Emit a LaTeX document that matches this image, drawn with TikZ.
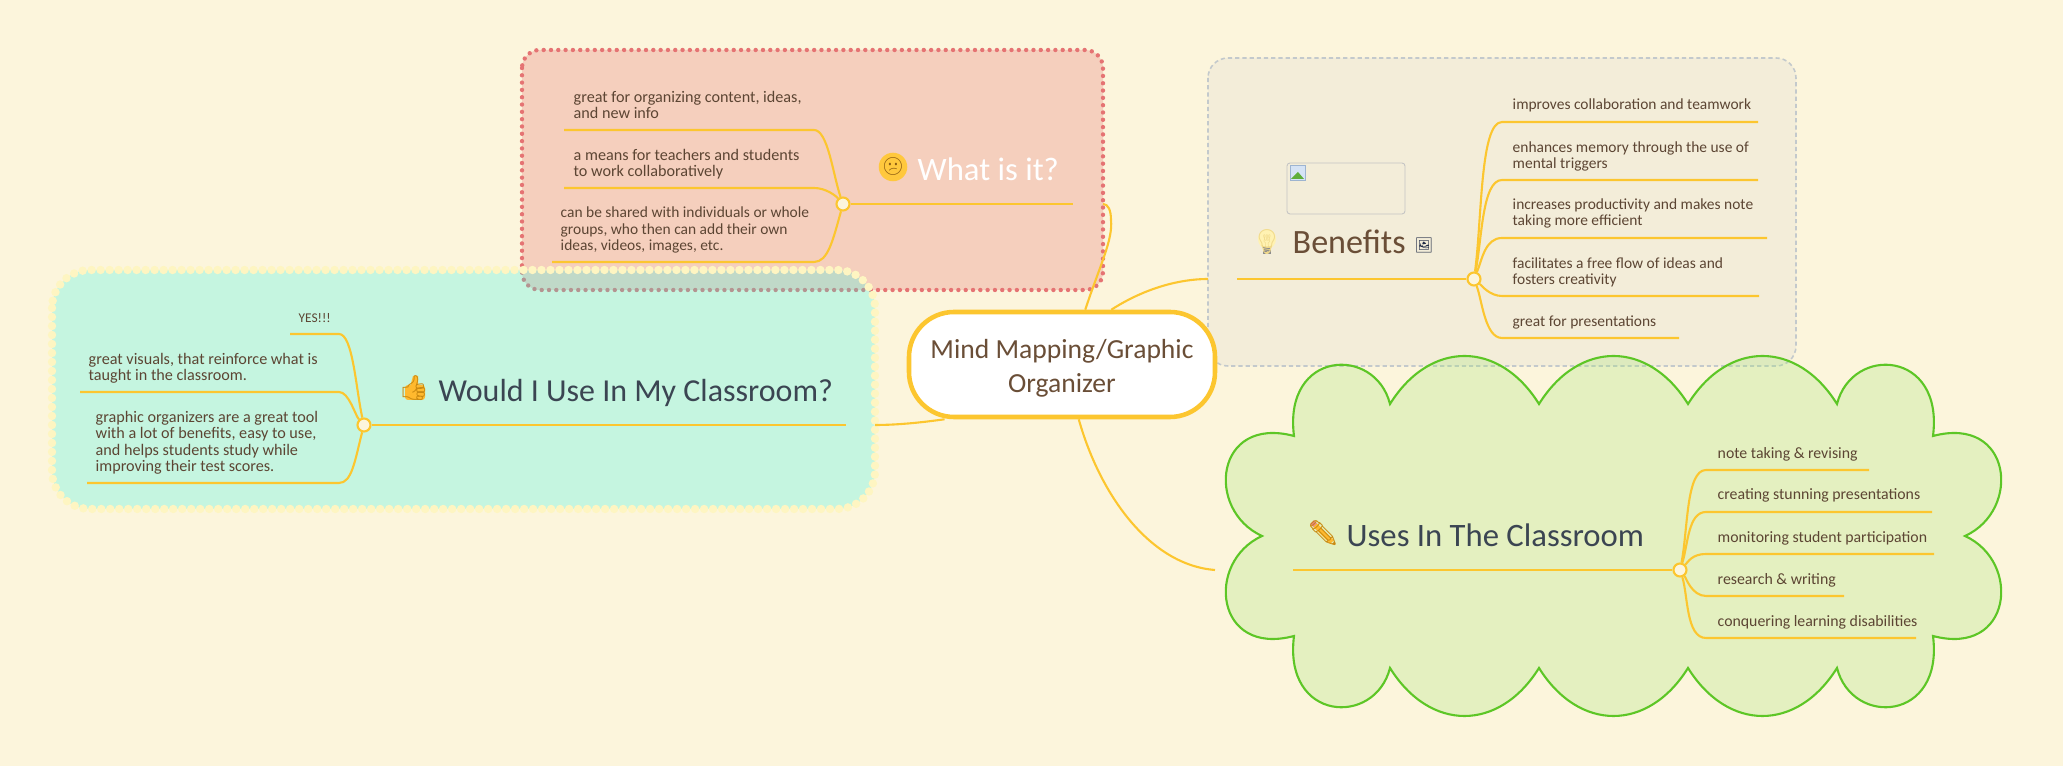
\documentclass[tikz,border=0pt]{standalone}
\usepackage{fontspec}
\setmainfont{Carlito}
\newfontfamily\emojifont{Noto Emoji}
\usetikzlibrary{positioning}
\definecolor{mapbg}{HTML}{FCF5DC}
\definecolor{linecol}{HTML}{FCC62F}
\definecolor{leafcol}{HTML}{5C4533}
\definecolor{darktitle}{HTML}{3B4552}
\definecolor{browntitle}{HTML}{6A4E37}
\definecolor{whatbg}{HTML}{F5CFBD}
\definecolor{whatrim}{HTML}{E57373}
\definecolor{benefitsbg}{HTML}{F3EDD9}
\definecolor{benefitsrim}{HTML}{C3C9CC}
\definecolor{classbg}{HTML}{24F8EC}
\definecolor{classrim}{HTML}{FEF5C2}
\definecolor{usesbg}{HTML}{9FE570}
\definecolor{usesrim}{HTML}{5DC626}
\definecolor{faceyellow}{HTML}{FFC83D}
\definecolor{facebrown}{HTML}{8A5A12}
\definecolor{bulbyellow}{HTML}{FFF2B2}
\definecolor{bulbline}{HTML}{F0D98A}
\definecolor{bulbgrey}{HTML}{8C8C8C}
\definecolor{picnavy}{HTML}{1E2A45}
\definecolor{iconorange}{HTML}{FFB92E}
\definecolor{icondeep}{HTML}{C98A12}
\definecolor{eraserpink}{HTML}{E8808A}
\definecolor{framegrey}{HTML}{C4C4C4}
\definecolor{brokenbg}{HTML}{D5E3F5}
\definecolor{brokenrim}{HTML}{9DB4D0}
\definecolor{brokengreen}{HTML}{5FAE3A}
\tikzset{
branch/.style={draw=linecol,line width=0.6pt},
hub/.style={circle,draw=linecol,fill=mapbg,line width=0.6pt,minimum size=0.13cm,inner sep=0pt},
leaf/.style={font=\fontsize{4.6}{4.6}\selectfont,text=leafcol,inner sep=0pt,text depth=0pt,anchor=south west,align=left,yshift=-0.02cm},
usesleaf/.style={leaf,font=\fontsize{4.5}{4.6}\selectfont},
benefitsleaf/.style={leaf,font=\fontsize{4.4}{4.6}\selectfont},
bigtitle/.style={inner sep=0pt,text depth=0pt,anchor=south west},
mindnode/.style={draw=linecol,fill=white,line width=1.3pt,rounded corners=0.45cm,minimum width=3.06cm,minimum height=1.05cm,inner sep=0pt},
mindtext/.style={align=center,inner sep=0pt,text=browntitle,font=\fontsize{7.85}{9.7}\selectfont},
icon/.style={inner sep=0pt,font=\emojifont\fontsize{7}{8}\selectfont}
}
\begin{document}
\begin{tikzpicture}
\useasboundingbox (0cm,0cm) rectangle (20.63cm,-7.66cm);
\fill[mapbg] (0cm,0cm) rectangle (20.63cm,-7.66cm);
\filldraw[fill=whatbg,draw=whatrim,line width=1.25pt,line cap=round,dash pattern=on 0pt off 2.08pt,rounded corners=0.18cm] (5.22cm,-0.50cm) rectangle (11.03cm,-2.90cm);
\filldraw[fill=benefitsbg,draw=benefitsrim,line width=0.45pt,dash pattern=on 1.2pt off 0.85pt,rounded corners=0.2cm] (12.08cm,-0.58cm) rectangle (17.96cm,-3.66cm);
\filldraw[fill=classbg,fill opacity=0.25,draw=classrim,line width=2.4pt,line cap=round,dash pattern=on 0pt off 2.56pt,rounded corners=0.38cm] (0.52cm,-2.70cm) rectangle (8.75cm,-5.09cm);
\filldraw[fill=usesbg,fill opacity=0.25,draw=usesrim,line width=0.6pt] (12.94cm,-4.36cm)
.. controls (12.83cm,-3.50cm) and (13.75cm,-3.45cm) .. (13.90cm,-4.04cm)
.. controls (14.30cm,-3.40cm) and (14.99cm,-3.40cm) .. (15.39cm,-4.04cm)
.. controls (15.79cm,-3.40cm) and (16.48cm,-3.40cm) .. (16.88cm,-4.04cm)
.. controls (17.28cm,-3.40cm) and (17.97cm,-3.40cm) .. (18.37cm,-4.04cm)
.. controls (18.52cm,-3.45cm) and (19.44cm,-3.50cm) .. (19.33cm,-4.36cm)
.. controls (20.12cm,-4.15cm) and (20.22cm,-5.10cm) .. (19.65cm,-5.36cm)
.. controls (20.22cm,-5.62cm) and (20.12cm,-6.57cm) .. (19.33cm,-6.36cm)
.. controls (19.44cm,-7.22cm) and (18.52cm,-7.27cm) .. (18.37cm,-6.68cm)
.. controls (17.97cm,-7.32cm) and (17.28cm,-7.32cm) .. (16.88cm,-6.68cm)
.. controls (16.48cm,-7.32cm) and (15.79cm,-7.32cm) .. (15.39cm,-6.68cm)
.. controls (14.99cm,-7.32cm) and (14.30cm,-7.32cm) .. (13.90cm,-6.68cm)
.. controls (13.75cm,-7.27cm) and (12.83cm,-7.22cm) .. (12.94cm,-6.36cm)
.. controls (12.15cm,-6.57cm) and (12.05cm,-5.62cm) .. (12.62cm,-5.36cm)
.. controls (12.05cm,-5.10cm) and (12.15cm,-4.15cm) .. (12.94cm,-4.36cm) -- cycle;
\node[mindnode] (mind) at (10.62cm,-3.645cm) {};
\node[mindtext] (mindtitle) at (10.62cm,-3.68cm) {Mind Mapping/Graphic\\Organizer};
\node[hub] (whathub) at (8.43cm,-2.04cm) {};
\node[hub] (benefitshub) at (14.74cm,-2.79cm) {};
\node[hub] (useshub) at (16.80cm,-5.70cm) {};
\node[hub] (classhub) at (3.64cm,-4.25cm) {};
\coordinate (whatend) at (10.73cm,-2.04cm);
\coordinate (whatedge) at (11.03cm,-2.04cm);
\coordinate (benefitsstart) at (12.37cm,-2.79cm);
\coordinate (benefitsedge) at (12.08cm,-2.79cm);
\coordinate (usesstart) at (12.93cm,-5.70cm);
\coordinate (usesedge) at (12.15cm,-5.70cm);
\coordinate (classend) at (8.46cm,-4.25cm);
\coordinate (classedge) at (8.75cm,-4.25cm);
\draw[branch] (mind.67) .. controls (11.00cm,-2.65cm) and (11.13cm,-2.40cm) .. (11.11cm,-2.20cm) .. controls (11.11cm,-2.10cm) and (11.08cm,-2.04cm) .. (whatedge);
\draw[branch] (mind.48) .. controls (11.45cm,-2.88cm) and (11.80cm,-2.79cm) .. (benefitsedge);
\draw[branch] (mind.287) .. controls (11.00cm,-4.95cm) and (11.50cm,-5.65cm) .. (usesedge);
\draw[branch] (mind.205) .. controls (9.25cm,-4.22cm) and (9.00cm,-4.25cm) .. (classedge);
\draw[branch] (whathub) -- (whatend);
\draw[branch] (benefitshub) -- (benefitsstart);
\draw[branch] (useshub) -- (usesstart);
\draw[branch] (classhub) -- (classend);
\node[leaf] (whatleafa) at (5.73cm,-1.17cm) {great for organizing content, ideas,\\and new info};
\node[leaf] (whatleafb) at (5.73cm,-1.75cm) {a means for teachers and students\\to work collaboratively};
\node[benefitsleaf] (whatleafc) at (5.60cm,-2.49cm) {can be shared with individuals or whole\\groups, who then can add their own\\ideas, videos, images, etc.};
\coordinate (whatenda) at (5.64cm,-1.30cm);
\coordinate (whatendb) at (5.64cm,-1.88cm);
\coordinate (whatendc) at (5.52cm,-2.62cm);
\draw[branch] (whathub) .. controls (8.33cm,-1.75cm) and (8.28cm,-1.30cm) .. (8.14cm,-1.30cm) -- (whatenda);
\draw[branch] (whathub) .. controls (8.36cm,-1.96cm) and (8.26cm,-1.88cm) .. (8.14cm,-1.88cm) -- (whatendb);
\draw[branch] (whathub) .. controls (8.33cm,-2.40cm) and (8.28cm,-2.62cm) .. (8.14cm,-2.62cm) -- (whatendc);
\node[benefitsleaf] (benefitsleafa) at (15.12cm,-1.08cm) {improves collaboration and teamwork};
\node[benefitsleaf] (benefitsleafb) at (15.12cm,-1.67cm) {enhances memory through the use of\\mental triggers};
\node[benefitsleaf] (benefitsleafc) at (15.12cm,-2.24cm) {increases productivity and makes note\\taking more efficient};
\node[benefitsleaf] (benefitsleafd) at (15.12cm,-2.83cm) {facilitates a free flow of ideas and\\fosters creativity};
\node[benefitsleaf] (benefitsleafe) at (15.12cm,-3.25cm) {great for presentations};
\coordinate (benefitsenda) at (17.58cm,-1.22cm);
\coordinate (benefitsendb) at (17.58cm,-1.80cm);
\coordinate (benefitsendc) at (17.67cm,-2.38cm);
\coordinate (benefitsendd) at (17.59cm,-2.96cm);
\coordinate (benefitsende) at (16.79cm,-3.38cm);
\draw[branch] (benefitshub) .. controls (14.82cm,-2.20cm) and (14.80cm,-1.22cm) .. (15.02cm,-1.22cm) -- (benefitsenda);
\draw[branch] (benefitshub) .. controls (14.82cm,-2.40cm) and (14.82cm,-1.80cm) .. (15.02cm,-1.80cm) -- (benefitsendb);
\draw[branch] (benefitshub) .. controls (14.82cm,-2.60cm) and (14.85cm,-2.38cm) .. (15.02cm,-2.38cm) -- (benefitsendc);
\draw[branch] (benefitshub) .. controls (14.82cm,-2.86cm) and (14.90cm,-2.96cm) .. (15.02cm,-2.96cm) -- (benefitsendd);
\draw[branch] (benefitshub) .. controls (14.82cm,-3.00cm) and (14.85cm,-3.38cm) .. (15.02cm,-3.38cm) -- (benefitsende);
\node[usesleaf] (usesleafa) at (17.17cm,-4.57cm) {note taking \& revising};
\node[usesleaf] (usesleafb) at (17.17cm,-4.98cm) {creating stunning presentations};
\node[usesleaf] (usesleafc) at (17.17cm,-5.41cm) {monitoring student participation};
\node[usesleaf] (usesleafd) at (17.17cm,-5.83cm) {research \& writing};
\node[usesleaf] (usesleafe) at (17.17cm,-6.25cm) {conquering learning disabilities};
\coordinate (usesenda) at (18.69cm,-4.70cm);
\coordinate (usesendb) at (19.32cm,-5.12cm);
\coordinate (usesendc) at (19.34cm,-5.54cm);
\coordinate (usesendd) at (18.44cm,-5.96cm);
\coordinate (usesende) at (19.16cm,-6.38cm);
\draw[branch] (useshub) .. controls (16.88cm,-5.30cm) and (16.86cm,-4.70cm) .. (17.06cm,-4.70cm) -- (usesenda);
\draw[branch] (useshub) .. controls (16.88cm,-5.45cm) and (16.88cm,-5.12cm) .. (17.06cm,-5.12cm) -- (usesendb);
\draw[branch] (useshub) .. controls (16.88cm,-5.62cm) and (16.92cm,-5.54cm) .. (17.06cm,-5.54cm) -- (usesendc);
\draw[branch] (useshub) .. controls (16.86cm,-5.78cm) and (16.92cm,-5.96cm) .. (17.06cm,-5.96cm) -- (usesendd);
\draw[branch] (useshub) .. controls (16.88cm,-5.95cm) and (16.86cm,-6.38cm) .. (17.06cm,-6.38cm) -- (usesende);
\node[leaf,font=\fontsize{3.8}{4.6}\selectfont] (classleafa) at (2.98cm,-3.21cm) {YES!!!};
\node[leaf] (classleafb) at (0.88cm,-3.79cm) {great visuals, that reinforce what is\\taught in the classroom.};
\node[leaf] (classleafc) at (0.95cm,-4.70cm) {graphic organizers are a great tool\\with a lot of benefits, easy to use,\\and helps students study while\\improving their test scores.};
\coordinate (classenda) at (2.90cm,-3.34cm);
\coordinate (classendb) at (0.80cm,-3.92cm);
\coordinate (classendc) at (0.87cm,-4.83cm);
\draw[branch] (classhub) .. controls (3.56cm,-3.90cm) and (3.53cm,-3.34cm) .. (3.39cm,-3.34cm) -- (classenda);
\draw[branch] (classhub) .. controls (3.55cm,-4.15cm) and (3.49cm,-3.92cm) .. (3.39cm,-3.92cm) -- (classendb);
\draw[branch] (classhub) .. controls (3.55cm,-4.60cm) and (3.52cm,-4.83cm) .. (3.39cm,-4.83cm) -- (classendc);
\node[bigtitle,text=white,font=\fontsize{9.3}{10}\selectfont] (whattitle) at (9.17cm,-1.81cm) {What is it?};
\node[bigtitle,text=browntitle,font=\fontsize{9.7}{12}\selectfont] (benefitstitle) at (12.92cm,-2.54cm) {Benefits};
\node[bigtitle,text=darktitle,font=\fontsize{9.3}{10}\selectfont] (usestitle) at (13.46cm,-5.47cm) {Uses In The Classroom};
\node[bigtitle,text=darktitle,font=\fontsize{9.1}{10}\selectfont] (classtitle) at (4.38cm,-4.02cm) {Would I Use In My Classroom?};
\node[icon,circle,fill=faceyellow,text=facebrown,minimum size=0.24cm,font=\emojifont\fontsize{5}{6}\selectfont] (whatface) at (8.93cm,-1.67cm) {\char"1F615};
\fill[bulbyellow] (12.67cm,-2.39cm) ellipse (0.09cm and 0.10cm);
\fill[bulbgrey] (12.63cm,-2.47cm) rectangle (12.71cm,-2.54cm);
\node[icon,text=bulbline] (benefitsbulb) at (12.67cm,-2.42cm) {\char"1F4A1};
\node[icon,text=picnavy,font=\emojifont\fontsize{4.2}{5}\selectfont] (benefitspic) at (14.24cm,-2.45cm) {\char"1F5BC};
\draw[iconorange,line width=1.5pt] (13.15cm,-5.25cm) -- (13.32cm,-5.42cm);
\draw[eraserpink,line width=1.5pt] (13.12cm,-5.22cm) -- (13.15cm,-5.25cm);
\node[icon,text=icondeep] (usespencil) at (13.23cm,-5.33cm) {\char"270F};
\fill[iconorange,rounded corners=0.03cm] (4.05cm,-3.85cm) rectangle (4.25cm,-4.00cm);
\fill[iconorange] (4.10cm,-3.87cm) -- (4.13cm,-3.76cm) -- (4.18cm,-3.76cm) -- (4.18cm,-3.87cm) -- cycle;
\node[icon,text=icondeep] (classthumb) at (4.14cm,-3.88cm) {\char"1F44D};
\draw[draw=framegrey,line width=0.25pt,rounded corners=0.03cm] (12.87cm,-1.63cm) rectangle (14.05cm,-2.14cm);
\filldraw[fill=brokenbg,draw=brokenrim,line width=0.2pt] (12.90cm,-1.65cm) rectangle (13.05cm,-1.80cm);
\fill[brokengreen] (12.91cm,-1.79cm) -- (12.98cm,-1.72cm) -- (13.04cm,-1.79cm) -- cycle;
\end{tikzpicture}
\end{document}
